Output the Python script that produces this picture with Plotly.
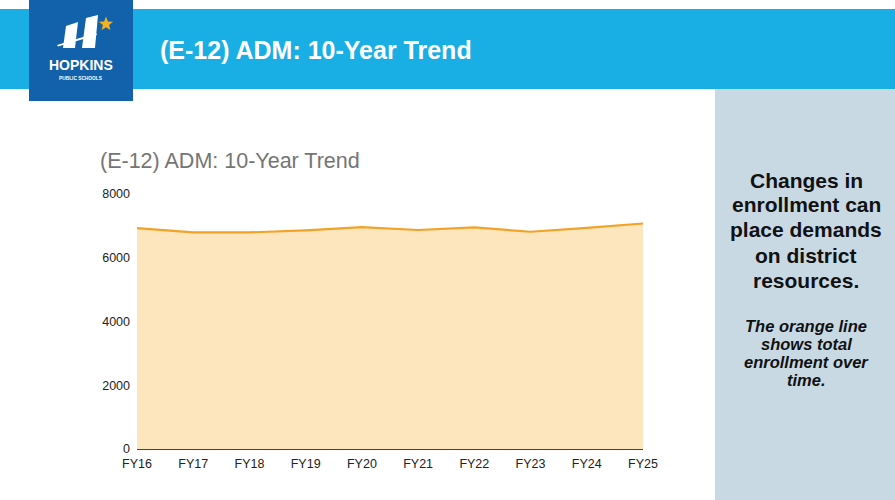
import math
import plotly.graph_objects as go

years = ["FY16", "FY17", "FY18", "FY19", "FY20", "FY21", "FY22", "FY23", "FY24", "FY25"]
adm = [6930, 6795, 6795, 6860, 6960, 6870, 6950, 6815, 6935, 7075]
y_ticks = [0, 2000, 4000, 6000, 8000]

W, H = 895, 500
FONT = "Arial, Liberation Sans, sans-serif"


def px(x, y):
    return x / W, 1 - y / H


def path(points):
    s = ""
    for i, (x, y) in enumerate(points):
        a, b = px(x, y)
        s += ("M" if i == 0 else "L") + f"{a:.5f},{b:.5f} "
    return s + "Z"


fig = go.Figure()
fig.add_trace(go.Scatter(
    x=list(range(len(years))), y=adm, mode="lines",
    line=dict(color="#F2A227", width=2.2),
    fill="tozeroy", fillcolor="#FDE5BD",
    hoverinfo="skip", showlegend=False,
))

x0, x1 = 137, 643
y_top, y_bot = 194, 449
fig.update_layout(
    autosize=True,
    margin=dict(l=0, r=0, t=0, b=0, autoexpand=False),
    paper_bgcolor="white", plot_bgcolor="white",
    xaxis=dict(
        domain=[x0 / W, x1 / W], range=[0, len(years) - 1],
        tickvals=list(range(len(years))), ticktext=years,
        showgrid=False, zeroline=False, showline=True,
        linecolor="#444444", linewidth=1, ticks="",
        tickfont=dict(family=FONT, size=12.5, color="#222222"),
        ticklabelstandoff=3,
        fixedrange=True,
    ),
    yaxis=dict(
        domain=[1 - y_bot / H, 1 - y_top / H], range=[0, 8000],
        tickvals=y_ticks, ticktext=[str(v) for v in y_ticks],
        showgrid=True, gridcolor="#D9D9D9", gridwidth=1,
        zeroline=False, showline=False, ticks="",
        tickfont=dict(family=FONT, size=12.5, color="#222222"),
        ticklabelstandoff=6,
        layer="below traces",
        fixedrange=True,
    ),
)

shapes = []
# banner
shapes.append(dict(type="rect", xref="paper", yref="paper",
                   x0=0, x1=1, y0=1 - 89 / H, y1=1 - 9 / H,
                   fillcolor="#19AEE4", line=dict(width=0), layer="below"))
# right panel
shapes.append(dict(type="rect", xref="paper", yref="paper",
                   x0=715 / W, x1=1, y0=0, y1=1 - 89 / H,
                   fillcolor="#C9D9E3", line=dict(width=0), layer="below"))
# logo box
shapes.append(dict(type="rect", xref="paper", yref="paper",
                   x0=29 / W, x1=133 / W, y0=1 - 101 / H, y1=1,
                   fillcolor="#1261AB", line=dict(width=0), layer="above"))
# logo sails
shapes.append(dict(type="path", xref="paper", yref="paper",
                   path=path([(66, 26), (78, 22), (75, 48), (63, 48)]),
                   fillcolor="white", line=dict(width=0), layer="above"))
shapes.append(dict(type="path", xref="paper", yref="paper",
                   path=path([(86, 18), (98, 15), (95, 48), (82, 48)]),
                   fillcolor="white", line=dict(width=0), layer="above"))
# swoosh
shapes.append(dict(type="path", xref="paper", yref="paper",
                   path=path([(57, 45), (96, 33), (97, 35), (58, 46.5)]),
                   fillcolor="white", line=dict(width=0), layer="above"))
# star
cx, cy, ro, ri = 106, 24, 7.5, 3.2
pts = []
for k in range(10):
    r = ro if k % 2 == 0 else ri
    ang = -math.pi / 2 + k * math.pi / 5
    pts.append((cx + r * math.cos(ang), cy + r * math.sin(ang)))
shapes.append(dict(type="path", xref="paper", yref="paper",
                   path=path(pts), fillcolor="#F6B11C",
                   line=dict(width=0), layer="above"))
fig.update_layout(shapes=shapes)

ann = []


def text(x, y, s, size, color, bold=False, italic=False, anchor="left"):
    a, b = px(x, y)
    t = s
    if bold:
        t = f"<b>{t}</b>"
    if italic:
        t = f"<i>{t}</i>"
    ann.append(dict(x=a, y=b, xref="paper", yref="paper", text=t,
                    showarrow=False, xanchor=anchor, yanchor="middle",
                    font=dict(family=FONT, size=size, color=color)))


text(81, 65, "HOPKINS", 14, "white", bold=True, anchor="center")
text(81, 78, "PUBLIC SCHOOLS", 4.8, "white", bold=True, anchor="center")
text(158, 50, "(E-12) ADM: 10-Year Trend", 25, "white", bold=True)
text(98, 161, "(E-12) ADM: 10-Year Trend", 21.5, "#757575")

bold_lines = ["Changes in", "enrollment can", "place demands", "on district", "resources."]
for i, s in enumerate(bold_lines):
    text(806, 180 + 25 * i, s, 21, "#111111", bold=True, anchor="center")
ital_lines = ["The orange line", "shows total", "enrollment over", "time."]
for i, s in enumerate(ital_lines):
    text(806, 326 + 18 * i, s, 16.5, "#111111", bold=True, italic=True, anchor="center")

fig.update_layout(annotations=ann)
fig.write_html(
    "out.html",
    config={"responsive": True, "displayModeBar": False},
    default_width="100vw",
    default_height="100vh",
    post_script="document.body.style.margin='0';document.body.style.overflow='hidden';"
                "window.dispatchEvent(new Event('resize'));",
)
